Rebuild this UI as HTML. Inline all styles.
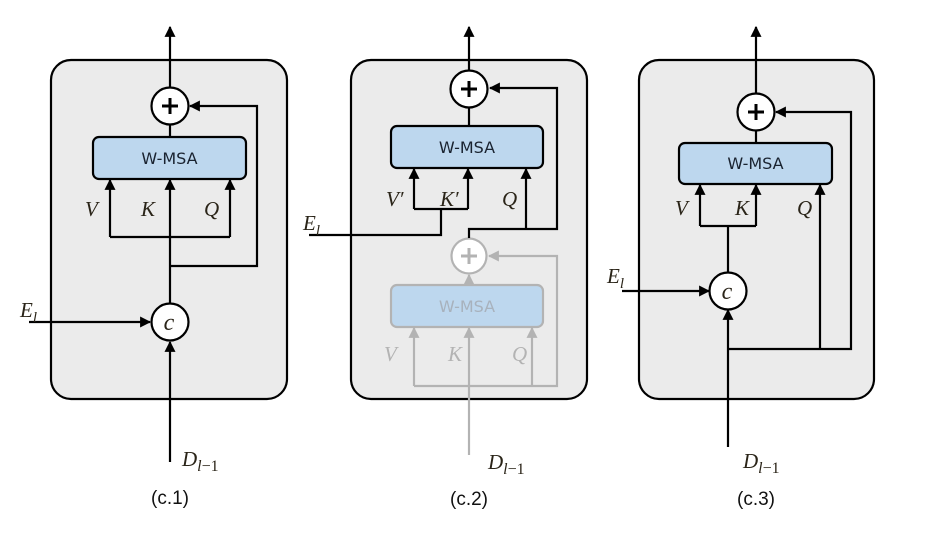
<!DOCTYPE html>
<html><head><meta charset="utf-8"><style>
html,body{margin:0;padding:0;background:#fff;}
svg{display:block;}
.m{font-family:"Liberation Serif",serif;font-style:italic;font-size:21px;fill:#2a2418;}
.g{fill:#b3b3b3;}
.w{font-family:"DejaVu Sans","Liberation Sans",sans-serif;font-size:16px;fill:#1a2330;}
.cap{font-family:"Liberation Sans",sans-serif;font-size:19px;fill:#111;}
</style></head><body>
<svg width="930" height="552" viewBox="0 0 930 552" xmlns="http://www.w3.org/2000/svg">
<defs>
<marker id="a" viewBox="0 0 10 10" refX="9" refY="5" markerWidth="5" markerHeight="5" orient="auto" markerUnits="strokeWidth"><path d="M0,0L10,5L0,10z" fill="#000"/></marker>
<marker id="ag" viewBox="0 0 10 10" refX="9" refY="5" markerWidth="5" markerHeight="5" orient="auto" markerUnits="strokeWidth"><path d="M0,0L10,5L0,10z" fill="#b3b3b3"/></marker>
</defs>
<g fill="none" stroke="#000" stroke-width="2.2">
<!-- panel 1 -->
<rect x="51" y="60" width="236" height="339" rx="20" fill="#ebebeb"/>
<line x1="170" y1="88" x2="170" y2="27" marker-end="url(#a)"/>
<rect x="93" y="137" width="153" height="42" rx="6" fill="#bdd7ee"/>
<line x1="170" y1="137" x2="170" y2="125"/>
<polyline points="110,237 230,237"/>
<line x1="110" y1="237" x2="110" y2="180" marker-end="url(#a)"/>
<line x1="170" y1="303" x2="170" y2="180" marker-end="url(#a)"/>
<line x1="230" y1="237" x2="230" y2="180" marker-end="url(#a)"/>
<polyline points="170,266 257,266 257,106 190,106" marker-end="url(#a)"/>
<line x1="29" y1="322" x2="150" y2="322" marker-end="url(#a)"/>
<line x1="170" y1="462" x2="170" y2="342" marker-end="url(#a)"/>
<circle cx="170" cy="106" r="18.5" fill="#fff"/>
<circle cx="170" cy="322" r="18.5" fill="#fff"/>
<!-- panel 2 -->
<rect x="351" y="60" width="236" height="339" rx="20" fill="#ebebeb"/>
<g stroke="#b3b3b3">
<rect x="391" y="285" width="152" height="42" rx="6" fill="#bdd7ee"/>
<polyline points="414,386 557,386 557,256 489,256" marker-end="url(#ag)"/>
<line x1="414" y1="386" x2="414" y2="328" marker-end="url(#ag)"/>
<line x1="532" y1="386" x2="532" y2="328" marker-end="url(#ag)"/>
<line x1="469" y1="455" x2="469" y2="328" marker-end="url(#ag)"/>
<line x1="469" y1="285" x2="469" y2="275" marker-end="url(#ag)"/>
<circle cx="469" cy="256" r="17.5" fill="#fff"/>
</g>
<line x1="469" y1="70" x2="469" y2="27" marker-end="url(#a)"/>
<rect x="391" y="126" width="152" height="42" rx="6" fill="#bdd7ee"/>
<line x1="469" y1="126" x2="469" y2="107"/>
<polyline points="414,209 468,209"/>
<line x1="414" y1="209" x2="414" y2="169" marker-end="url(#a)"/>
<line x1="468" y1="209" x2="468" y2="169" marker-end="url(#a)"/>
<polyline points="309,235 441,235 441,209"/>
<polyline points="469,238 469,229 557,229 557,88 490,88" marker-end="url(#a)"/>
<line x1="526" y1="229" x2="526" y2="169" marker-end="url(#a)"/>
<circle cx="469" cy="89" r="18.5" fill="#fff"/>
<!-- panel 3 -->
<rect x="639" y="60" width="235" height="339" rx="20" fill="#ebebeb"/>
<line x1="756" y1="93" x2="756" y2="27" marker-end="url(#a)"/>
<rect x="679" y="143" width="153" height="41" rx="6" fill="#bdd7ee"/>
<line x1="756" y1="143" x2="756" y2="131"/>
<polyline points="700,226 756,226"/>
<line x1="700" y1="226" x2="700" y2="185" marker-end="url(#a)"/>
<line x1="756" y1="226" x2="756" y2="185" marker-end="url(#a)"/>
<line x1="728" y1="273" x2="728" y2="226"/>
<line x1="622" y1="291" x2="709" y2="291" marker-end="url(#a)"/>
<line x1="728" y1="447" x2="728" y2="310" marker-end="url(#a)"/>
<polyline points="728,349 851,349 851,112 776,112" marker-end="url(#a)"/>
<line x1="820" y1="349" x2="820" y2="185" marker-end="url(#a)"/>
<circle cx="756" cy="112" r="18.5" fill="#fff"/>
<circle cx="728" cy="291" r="18.5" fill="#fff"/>
</g>
<!-- plus signs -->
<g stroke="#000" stroke-width="3">
<path d="M162,106h16M170,98v16"/>
<path d="M461,89h16M469,81v16"/>
<path d="M748,112h16M756,104v16"/>
</g>
<path d="M461,256h16M469,248v16" stroke="#b3b3b3" stroke-width="3"/>
<!-- text -->
<text class="w" x="169.5" y="164" text-anchor="middle">W-MSA</text>
<text class="w" x="467" y="153" text-anchor="middle">W-MSA</text>
<text class="w" x="467" y="312" text-anchor="middle" style="fill:#a8b2bd">W-MSA</text>
<text class="w" x="755.5" y="169" text-anchor="middle">W-MSA</text>
<text class="m" x="169" y="330" text-anchor="middle" style="font-size:24px">c</text>
<text class="m" x="727" y="299" text-anchor="middle" style="font-size:24px">c</text>
<text class="m" x="85" y="216">V</text>
<text class="m" x="141" y="216">K</text>
<text class="m" x="204" y="216">Q</text>
<text class="m" x="386" y="206">V′</text>
<text class="m" x="440" y="206">K′</text>
<text class="m" x="502" y="206">Q</text>
<text class="m g" x="384" y="361">V</text>
<text class="m g" x="448" y="361">K</text>
<text class="m g" x="512" y="361">Q</text>
<text class="m" x="675" y="215">V</text>
<text class="m" x="735" y="215">K</text>
<text class="m" x="797" y="215">Q</text>
<text class="m" x="20" y="317">E<tspan font-size="15" dy="5">l</tspan></text>
<text class="m" x="303" y="230">E<tspan font-size="15" dy="5">l</tspan></text>
<text class="m" x="607" y="283">E<tspan font-size="15" dy="5">l</tspan></text>
<text class="m" x="182" y="466">D<tspan font-size="16" dy="5">l</tspan><tspan font-size="16" font-style="normal">−1</tspan></text>
<text class="m" x="488" y="469">D<tspan font-size="16" dy="5">l</tspan><tspan font-size="16" font-style="normal">−1</tspan></text>
<text class="m" x="743" y="468">D<tspan font-size="16" dy="5">l</tspan><tspan font-size="16" font-style="normal">−1</tspan></text>
<text class="cap" x="170" y="504" text-anchor="middle">(c.1)</text>
<text class="cap" x="469" y="505" text-anchor="middle">(c.2)</text>
<text class="cap" x="756" y="505" text-anchor="middle">(c.3)</text>
</svg>
</body></html>
